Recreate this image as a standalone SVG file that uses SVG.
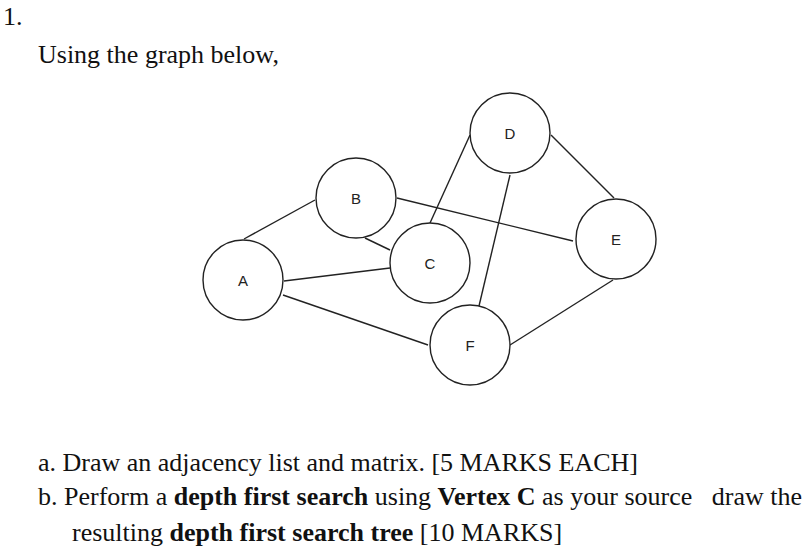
<svg xmlns="http://www.w3.org/2000/svg" width="809" height="555" viewBox="0 0 809 555">
<style>
.n{fill:#fff;stroke:#222;stroke-width:1.4}
.l{font-family:"Liberation Sans",Arial,sans-serif;font-size:15px;fill:#222;text-anchor:middle}
.e{stroke:#222;stroke-width:1.4;fill:none}
.t{font-family:"Liberation Serif","Times New Roman",serif;font-size:26px;fill:#111}
</style>
<rect width="809" height="555" fill="#fff"/>
<text class="t" x="3" y="25">1.</text>
<text class="t" x="38" y="63">Using the graph below,</text>
<g id="connectors">
<line class="e" x1="244" y1="239" x2="315" y2="200"/>
<line class="e" x1="365" y1="238" x2="390" y2="250"/>
<line class="e" x1="284" y1="281" x2="390" y2="268"/>
<line class="e" x1="283" y1="295" x2="428" y2="345"/>
<line class="e" x1="397" y1="198" x2="573" y2="241"/>
<line class="e" x1="430" y1="223" x2="470" y2="135"/>
<line class="e" x1="510" y1="175" x2="479" y2="306"/>
<line class="e" x1="551" y1="135" x2="614" y2="198"/>
<line class="e" x1="613" y1="280" x2="510" y2="345"/>
</g>
<g id="A"><circle class="n" cx="243" cy="280" r="40"/><text class="l" x="243" y="286">A</text></g>
<g id="B"><circle class="n" cx="356" cy="198" r="40"/><text class="l" x="356" y="204">B</text></g>
<g id="C"><circle class="n" cx="430" cy="263" r="40"/><text class="l" x="430" y="269">C</text></g>
<g id="D"><circle class="n" cx="510" cy="133" r="40"/><text class="l" x="510" y="139">D</text></g>
<g id="E"><circle class="n" cx="616" cy="239" r="40"/><text class="l" x="616" y="245">E</text></g>
<g id="F"><circle class="n" cx="470" cy="345" r="40"/><text class="l" x="470" y="351">F</text></g>
<text class="t" x="38" y="471">a. Draw an adjacency list and matrix. [5 MARKS EACH]</text>
<text class="t" x="38" y="505" xml:space="preserve">b. Perform a <tspan font-weight="bold">depth first search</tspan> using <tspan font-weight="bold">Vertex C</tspan> as your source   draw the</text>
<text class="t" x="72" y="541">resulting <tspan font-weight="bold">depth first search tree</tspan> [10 MARKS]</text>
</svg>
